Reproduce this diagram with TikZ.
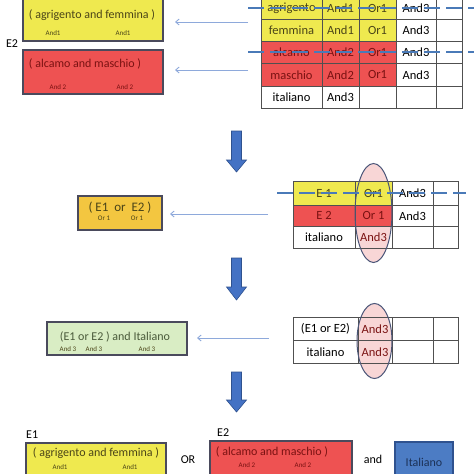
\documentclass[tikz,border=0pt]{standalone}
\usepackage{fontspec}
\setmainfont{Carlito}
\usetikzlibrary{arrows.meta}
\definecolor{yel}{HTML}{EFE94F}
\definecolor{rd}{HTML}{EE5252}
\definecolor{gold}{HTML}{F3C640}
\definecolor{grn}{HTML}{D9EDC4}
\definecolor{pnk}{HTML}{F8D6D6}
\definecolor{bbox}{HTML}{4C7CC4}
\definecolor{arrblue}{HTML}{4472C4}
\definecolor{arrbd}{HTML}{2F528F}
\definecolor{dashc}{HTML}{4A7AB8}
\definecolor{thinc}{HTML}{8EA9DB}
\definecolor{bord}{HTML}{4A4A5C}
\definecolor{olive}{HTML}{4A4418}
\definecolor{dred}{HTML}{7A1212}
\definecolor{gridc}{HTML}{505050}
\definecolor{grtext}{HTML}{4A5A3A}
\definecolor{eldraw}{HTML}{4A5578}
\tikzset{
  cellst/.style={draw=gridc, line width=0.8pt, inner sep=0pt, font=\fontsize{12.5}{14}\selectfont},
  boxst/.style={draw=bord, line width=1.1pt},
  bigtxt/.style={inner sep=0pt, font=\fontsize{12}{14}\selectfont},
  smalltxt/.style={inner sep=0pt, font=\fontsize{7}{8}\selectfont},
  thinarrow/.style={draw=thinc, line width=0.9pt, -{Straight Barb[length=3.5pt,width=6pt]}},
  dashline/.style={draw=dashc, line width=1.3pt, dash pattern=on 16pt off 6pt},
  downarrow/.style={fill=arrblue, draw=arrbd, line width=0.6pt},
  elfill/.style={fill=pnk},
  eldrawst/.style={draw=eldraw, line width=1pt}
}
% cell: name, x1, y1, x2, y2, fill, text colour/text
\newcommand\tcell[7]{%
  \node[cellst, fill=#6, minimum width={#4-#2}, minimum height={#5-#3}] (#1) at ({(#2+#4)/2},{(#3+#5)/2}) {#7};}
\newcommand\downarr[4]{%
  \path[downarrow] (#1-5,#2) -- (#1+5,#2) -- (#1+5,#3) -- (#1+10,#3) -- (#1,#4) -- (#1-10,#3) -- (#1-5,#3) -- cycle;}
\begin{document}
\begin{tikzpicture}[x=1pt,y=-1pt]
\useasboundingbox (0,0) rectangle (474,474);
\clip (0,0) rectangle (474,474);
\fill[white] (0,0) rectangle (474,474);

% ---------- Section 1: top boxes ----------
\path[boxst, fill=yel] (23,-5) rectangle (163,41);
\node[bigtxt, text=olive] (t1) at (92,15) {( agrigento and femmina )};
\node[smalltxt, text=olive] (t1a) at (53,33) {And1};
\node[smalltxt, text=olive] (t1b) at (123,33) {And1};
\node[bigtxt] (e2top) at (12,44) {E2};
\path[boxst, fill=rd] (23,50) rectangle (163,94);
\node[bigtxt, text=dred] (t2) at (85,64) {( alcamo and maschio )};
\node[smalltxt, text=dred] (t2a) at (58,87) {And 2};
\node[smalltxt, text=dred] (t2b) at (125,87) {And 2};

% ---------- Top table ----------
\tcell{a11}{261}{-3}{322}{19}{yel}{\color{olive}agrigento}
\tcell{a12}{322}{-3}{359}{19}{yel}{\color{olive}And1}
\tcell{a13}{359}{-3}{396}{19}{yel}{\color{olive}Or1}
\tcell{a14}{396}{-3}{436}{19}{none}{And3}
\tcell{a15}{436}{-3}{462}{19}{none}{}
\tcell{a21}{261}{19}{322}{41}{yel}{\color{olive}femmina}
\tcell{a22}{322}{19}{359}{41}{yel}{\color{olive}And1}
\tcell{a23}{359}{19}{396}{41}{yel}{\color{olive}Or1}
\tcell{a24}{396}{19}{436}{41}{none}{And3}
\tcell{a25}{436}{19}{462}{41}{none}{}
\tcell{a31}{261}{41}{322}{63.5}{rd}{\color{dred}alcamo}
\tcell{a32}{322}{41}{359}{63.5}{rd}{\color{dred}And2}
\tcell{a33}{359}{41}{396}{63.5}{rd}{\color{dred}Or1}
\tcell{a34}{396}{41}{436}{63.5}{none}{And3}
\tcell{a35}{436}{41}{462}{63.5}{none}{}
\tcell{a41}{261}{63.5}{322}{86}{rd}{\color{dred}maschio}
\tcell{a42}{322}{63.5}{359}{86}{rd}{\color{dred}And2}
\tcell{a43}{359}{63.5}{396}{86}{rd}{\color{dred}Or1}
\tcell{a44}{396}{63.5}{436}{86}{none}{And3}
\tcell{a45}{436}{63.5}{462}{86}{none}{}
\tcell{a51}{261}{86}{322}{108}{none}{italiano}
\tcell{a52}{322}{86}{359}{108}{none}{And3}
\tcell{a53}{359}{86}{396}{108}{none}{}
\tcell{a54}{396}{86}{436}{108}{none}{}
\tcell{a55}{436}{86}{462}{108}{none}{}
\coordinate (d1s) at (248,8); \coordinate (d1e) at (474,8);
\coordinate (d2s) at (248,52); \coordinate (d2e) at (474,52);
\draw[dashline] (d1s) -- (d1e);
\draw[dashline] (d2s) -- (d2e);
\coordinate (r1) at (248,22); \coordinate (l1) at (175,22);
\coordinate (r2) at (248,70); \coordinate (l2) at (175,70);
\draw[thinarrow] (r1) -- (l1);
\draw[thinarrow] (r2) -- (l2);

\downarr{236.5}{131}{160}{172}

% ---------- Section 2 ----------
\coordinate (el1) at (373.5,213);
\fill[elfill] (el1) ellipse [x radius=18.5, y radius=49.5];
\tcell{b11}{293}{181}{355}{205}{yel}{\color{olive}E 1}
\tcell{b12}{355}{181}{392}{205}{yel}{\color{olive}Or1}
\tcell{b13}{392}{181}{433}{205}{none}{And3}
\tcell{b14}{433}{181}{458}{205}{none}{}
\tcell{b21}{293}{205}{355}{226.5}{rd}{\color{dred}E 2}
\tcell{b22}{355}{205}{392}{226.5}{rd}{\color{dred}Or 1}
\tcell{b23}{392}{205}{433}{226.5}{none}{And3}
\tcell{b24}{433}{205}{458}{226.5}{none}{}
\tcell{b31}{293}{226.5}{355}{248}{none}{italiano}
\tcell{b32}{355}{226.5}{392}{248}{none}{\color{dred}And3}
\tcell{b33}{392}{226.5}{433}{248}{none}{}
\tcell{b34}{433}{226.5}{458}{248}{none}{}
\draw[eldrawst] (el1) ellipse [x radius=18.5, y radius=49.5];
\coordinate (d3s) at (277,193); \coordinate (d3e) at (466,193);
\draw[dashline] (d3s) -- (d3e);

\path[boxst, fill=gold] (78,196) rectangle (162,230);
\node[bigtxt, text=olive, font=\fontsize{13}{15}\selectfont] (t3) at (120,207.5) {( E1~ or~ E2 )};
\node[smalltxt, text=olive] (t3a) at (104,218.5) {Or 1};
\node[smalltxt, text=olive] (t3b) at (137,218.5) {Or 1};
\coordinate (r3) at (268,214); \coordinate (l3) at (170,214);
\draw[thinarrow] (r3) -- (l3);

\downarr{236.5}{258}{287}{300}

% ---------- Section 3 ----------
\coordinate (el2) at (374.5,341);
\fill[elfill] (el2) ellipse [x radius=17.5, y radius=37.5];
\tcell{c11}{293}{317.5}{358}{340.5}{none}{(E1 or E2)}
\tcell{c12}{358}{317.5}{392}{340.5}{none}{\color{dred}And3}
\tcell{c13}{392}{317.5}{433}{340.5}{none}{}
\tcell{c14}{433}{317.5}{458}{340.5}{none}{}
\tcell{c21}{293}{340.5}{358}{363}{none}{italiano}
\tcell{c22}{358}{340.5}{392}{363}{none}{\color{dred}And3}
\tcell{c23}{392}{340.5}{433}{363}{none}{}
\tcell{c24}{433}{340.5}{458}{363}{none}{}
\draw[eldrawst] (el2) ellipse [x radius=17.5, y radius=37.5];

\path[boxst, fill=grn] (47,322) rectangle (187,355);
\node[bigtxt, text=grtext] (t4) at (115,337) {(E1 or E2 ) and Italiano};
\node[smalltxt, text=olive] (t4a) at (68,349.5) {And 3};
\node[smalltxt, text=olive] (t4b) at (94,349.5) {And 3};
\node[smalltxt, text=olive] (t4c) at (147,349.5) {And 3};
\coordinate (r4) at (269,338); \coordinate (l4) at (197,338);
\draw[thinarrow] (r4) -- (l4);

\downarr{236.5}{372}{400}{412}

% ---------- Bottom row ----------
\node[bigtxt, anchor=west] (e1b) at (26,435) {E1};
\path[boxst, fill=yel] (26,443) rectangle (166,490);
\node[bigtxt, text=olive] (t5) at (96,453) {( agrigento and femmina )};
\node[smalltxt, text=olive] (t5a) at (60,467) {And1};
\node[smalltxt, text=olive] (t5b) at (130,467) {And1};
\node[bigtxt] (or) at (188,460) {OR};
\node[bigtxt, anchor=west] (e2b) at (217,433) {E2};
\path[boxst, fill=rd] (210,441) rectangle (352,490);
\node[bigtxt, text=dred] (t6) at (272,452) {( alcamo and maschio )};
\node[smalltxt, text=dred] (t6a) at (247,465) {And 2};
\node[smalltxt, text=dred] (t6b) at (303,465) {And 2};
\node[bigtxt] (andb) at (373,459) {and};
\path[draw=arrbd, line width=1.1pt, fill=bbox] (395,442) rectangle (453,490);
\node[bigtxt, text=arrbd!60!black] (it) at (424,462) {Italiano};
\end{tikzpicture}
\end{document}
